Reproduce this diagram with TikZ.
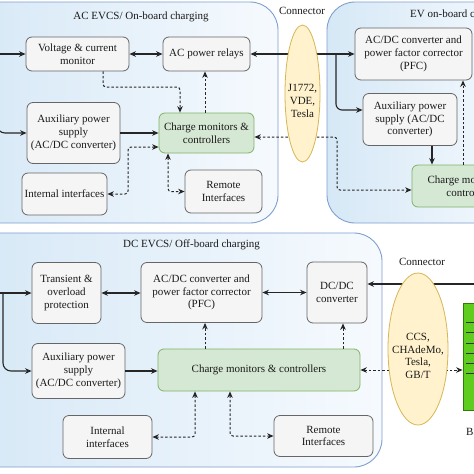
\documentclass[tikz,border=0pt]{standalone}
\usepackage{fontspec}
\setmainfont{Liberation Serif}
\usetikzlibrary{arrows.meta,shapes.geometric}
\definecolor{boxfill}{HTML}{F5F5F5}
\definecolor{boxline}{HTML}{666666}
\definecolor{gfill}{HTML}{D5E8D4}
\definecolor{gline}{HTML}{82B366}
\definecolor{yfill}{HTML}{FFF2CC}
\definecolor{yline}{HTML}{D6B656}
\definecolor{contline}{HTML}{7F9FD0}
\definecolor{contA}{HTML}{D6E8F6}
\definecolor{contB}{HTML}{F6FAFE}
\definecolor{txt}{HTML}{1A1A1A}
\definecolor{batfill}{HTML}{5FCD1E}
\definecolor{batline}{HTML}{2E7D0A}
\begin{document}
\begin{tikzpicture}[x=1pt,y=-1pt,
  font=\fontsize{11}{12.8}\selectfont,
  every node/.style={text=txt},
  box/.style={draw=boxline, fill=boxfill, rounded corners=6pt, line width=0.8pt, align=center, inner sep=0pt},
  gbox/.style={box, draw=gline, fill=gfill},
  cont/.style={draw=contline, left color=contA, right color=contB, rounded corners=28pt, line width=0.9pt, inner sep=0pt},
  conn/.style={ellipse, draw=yline, fill=yfill, line width=0.8pt, inner sep=0pt},
  arr/.style={-{Stealth[length=6.5pt,width=5.5pt]}, line width=1.1pt, draw=black!85},
  arrtwo/.style={{Stealth[length=6.5pt,width=5.5pt]}-{Stealth[length=6.5pt,width=5.5pt]}, line width=1.1pt, draw=black!85},
  dsh/.style={dash pattern=on 2.5pt off 2pt, line width=1pt, rounded corners=3pt},
  lbl/.style={align=center, inner sep=0pt}
]
\clip (0,0) rectangle (474,474);
\fill[white] (0,0) rectangle (474,474);

% containers
\node[cont, minimum width=308pt, minimum height=221pt] (acC) at (124,112.5) {};
\node[cont, minimum width=200pt, minimum height=221pt] (evC) at (427,112.5) {};
\node[cont, minimum width=412pt, minimum height=234pt] (dcC) at (176,350) {};

% titles
\node[lbl] (acT) at (141,17) {AC EVCS/ On-board charging};
\node[lbl] (conT1) at (302,11) {Connector};
\node[lbl, anchor=west] (evT) at (410,15) {EV on-board charging};
\node[lbl] (dcT) at (191.5,245) {DC EVCS/ Off-board charging};
\node[lbl] (conT2) at (422,262) {Connector};

% AC EVCS nodes
\node[box, minimum width=103pt, minimum height=34pt] (vcm) at (77.5,54) {Voltage \& current\\monitor};
\node[box, minimum width=87pt, minimum height=34pt] (acr) at (206.5,54) {AC power relays};
\node[box, minimum width=93pt, minimum height=61pt] (aux1) at (73.5,133) {Auxiliary power\\supply\\(AC/DC converter)};
\node[gbox, minimum width=95pt, minimum height=40pt] (cm1) at (206.5,133) {Charge monitors \&\\controllers};
\node[box, minimum width=85pt, minimum height=42pt] (int1) at (64.5,194) {Internal interfaces};
\node[box, minimum width=77pt, minimum height=43pt] (rem1) at (223.5,191.5) {Remote\\Interfaces};

% EV nodes
\node[box, minimum width=117pt, minimum height=52pt] (pfc1) at (413.5,54) {AC/DC converter and\\power factor corrector\\(PFC)};
\node[box, minimum width=94pt, minimum height=52pt] (aux2) at (410,119.5) {Auxiliary power\\supply (AC/DC\\converter)};
\node[gbox, minimum width=116pt, minimum height=42pt] (cm2) at (470,186) {Charge monitors \&\\controllers};

% DC nodes
\node[box, minimum width=69pt, minimum height=61pt] (tr) at (66.5,293) {Transient \&\\overload\\protection};
\node[box, minimum width=121pt, minimum height=60pt] (acdc) at (201.5,292.5) {AC/DC converter and\\power factor corrector\\(PFC)};
\node[box, minimum width=60pt, minimum height=61pt] (dcdc) at (337,292.5) {DC/DC\\converter};
\node[box, minimum width=93pt, minimum height=55pt] (aux3) at (78.5,371) {Auxiliary power\\supply\\(AC/DC converter)};
\node[gbox, minimum width=202pt, minimum height=42pt] (cm3) at (259,370) {Charge monitors \& controllers};
\node[box, minimum width=89pt, minimum height=43pt] (int3) at (107.5,437) {Internal\\interfaces};
\node[box, minimum width=99pt, minimum height=41pt] (rem3) at (323.5,436) {Remote\\Interfaces};

% battery
\node[draw=batline, fill=batfill, line width=0.8pt, minimum width=60pt, minimum height=107pt, inner sep=0pt] (bat) at (493,356.5) {};
\foreach \yy in {322,332,343,353,363,373} \draw[line width=0.8pt, black!80] (466,\yy) -- (490,\yy);
\node[lbl, anchor=west] (batT) at (466,433) {Battery};

% connectors (lines first, ellipses on top)
\coordinate (inA) at (-10,54);
\coordinate (brA) at (-3,54);
\draw[arr] (inA) -- (vcm.west);
\draw[arr, rounded corners=8pt] (brA) |- (aux1.west);
\draw[arrtwo] (vcm.east) -- (acr.west);
\draw[arr, dsh] (103,0 |- vcm.south) -- (103,87) -- (180,87) -- (180,0 |- cm1.north);
\draw[arr, dsh] (205,0 |- cm1.north) -- (205,0 |- acr.south);
\draw[arr] (aux1.east) -- (aux1.east -| cm1.west);
\draw[arrtwo, dsh] (cm1.west |- 0,147) -- (128,147) -- (128,0 |- int1.east) -- (int1.east);
\draw[arrtwo, dsh] (168,0 |- cm1.south) |- (rem1.west);
\draw[arrtwo, dsh] (cm1.east |- 0,137) -- (337,137) -- (337,190) -- (cm2.west |- 0,190);

\draw[arrtwo] (acr.east) -- (acr.east -| pfc1.west);
\coordinate (brB) at (336,54);
\draw[arr, rounded corners=6pt] (brB) |- (aux2.west |- 0,110);
\draw[arr] (432,0 |- aux2.south) -- (432,0 |- cm2.north);
\draw[arr, dsh] (463,0 |- cm2.north) -- (463,0 |- pfc1.south);

\coordinate (inD) at (-10,293);
\coordinate (brD) at (3,293);
\draw[arr] (inD) -- (tr.west);
\draw[arr, rounded corners=8pt] (brD) |- (aux3.west);
\draw[arrtwo] (tr.east) -- (tr.east -| acdc.west);
\draw[arrtwo] (acdc.east) -- (dcdc.west);
\coordinate (inR) at (480,284);
\draw[arr] (inR) -- (inR -| dcdc.east);
\draw[arr] (aux3.east) -- (aux3.east -| cm3.west);
\draw[arrtwo, dsh] (cm3.east) -- (cm3.east -| bat.west);
\draw[arr, dsh] (343,0 |- cm3.north) -- (343,0 |- dcdc.south);
\draw[arr, dsh] (205,0 |- cm3.north) -- (205,0 |- acdc.south);
\draw[arrtwo, dsh] (195,0 |- cm3.south) |- (int3.east);
\draw[arrtwo, dsh] (230,0 |- cm3.south) |- (rem3.west);

% connector ellipses
\node[conn, minimum width=35pt, minimum height=137pt] (con1) at (302.5,93.5) {};
\node[lbl] (con1t) at (302.5,101) {J1772,\\VDE,\\Tesla};
\node[conn, minimum width=60pt, minimum height=152pt] (con2) at (418,349) {};
\node[lbl] (con2t) at (418,356) {CCS,\\CHAdeMo,\\Tesla,\\GB/T};
\end{tikzpicture}
\end{document}
